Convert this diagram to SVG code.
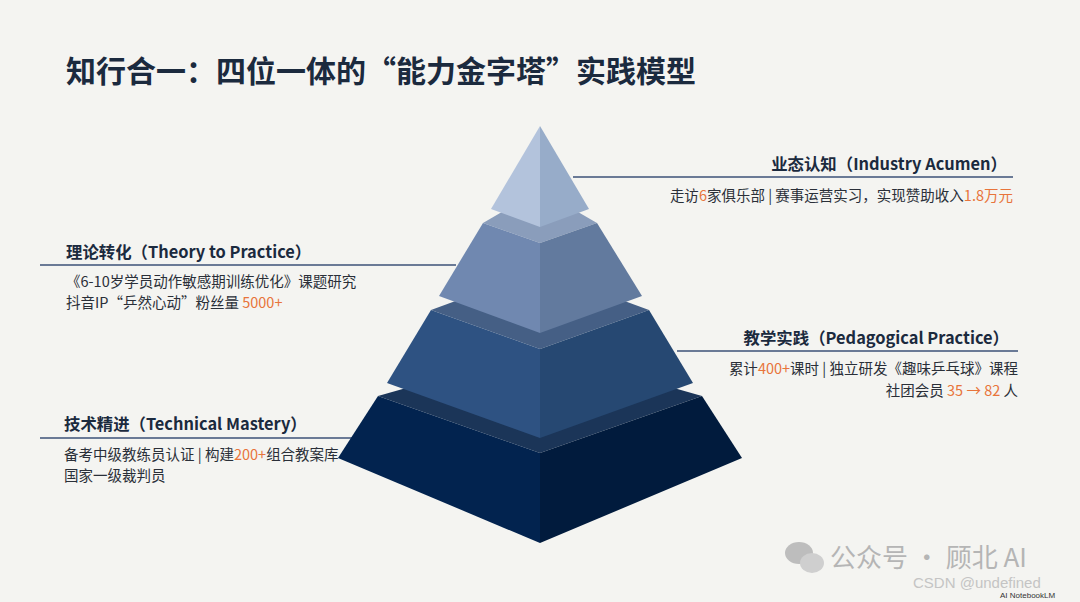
<svg xmlns="http://www.w3.org/2000/svg" width="1080" height="602" viewBox="0 0 1080 602">
<style>
.t{font-family:"Noto Sans CJK SC","Noto Sans",sans-serif;fill:#1b2a3e}
.h{font-size:16.4px;font-weight:700}
.b{font-size:14.5px;fill:#2a2f38}
.o{fill:#e8743b}
.ln{stroke:#3d5277;stroke-width:1.5;fill:none}
</style>
<rect width="1080" height="602" fill="#f4f4f1"/>
<text class="t" x="66" y="82" font-size="30" font-weight="700" fill="#1b2a3e">知行合一：四位一体的“能力金字塔”实践模型</text>
<g id="connectors">
<line class="ln" x1="573" y1="177" x2="1013" y2="177"/>
<line class="ln" x1="40" y1="265" x2="456" y2="265"/>
<line class="ln" x1="677" y1="351" x2="1018" y2="351"/>
<line class="ln" x1="40" y1="438" x2="392" y2="438"/>
</g>
<g id="tier4">
<polygon points="378,396 540,453 702,396 540,350" fill="#1b3558"/>
<polygon points="378,396 540,453 540,543 338,458" fill="#02234f"/>
<polygon points="702,396 540,453 540,543 742,458" fill="#011b3d"/>
</g>
<g id="tier3">
<polygon points="431,310 540,349 649,310 540,270" fill="#455f85"/>
<polygon points="431,310 540,349 540,438 387,383" fill="#2e5282"/>
<polygon points="649,310 540,349 540,438 693,383" fill="#264872"/>
</g>
<g id="tier2">
<polygon points="483,223 540,243 597,223 540,190" fill="#8a9dbb"/>
<polygon points="483,223 540,243 540,333 439,296" fill="#7088b0"/>
<polygon points="597,223 540,243 540,333 642,296" fill="#627a9e"/>
</g>
<g id="tier1">
<polygon points="540,126 540,227 491,209" fill="#b3c3dc"/>
<polygon points="540,126 540,227 589,209" fill="#97acc9"/>
</g>
<g id="label-industry" class="t" text-anchor="end">
<text class="t h" x="1007" y="170">业态认知（Industry Acumen）</text>
<text class="t b" x="1013" y="201">走访<tspan class="o">6</tspan>家俱乐部 | 赛事运营实习，实现赞助收入<tspan class="o">1.8万元</tspan></text>
</g>
<g id="label-theory" class="t">
<text class="t h" x="66" y="258">理论转化（Theory to Practice）</text>
<text class="t b" x="66" y="287">《6-10岁学员动作敏感期训练优化》课题研究</text>
<text class="t b" x="66" y="308">抖音IP“乒然心动”粉丝量 <tspan class="o">5000+</tspan></text>
</g>
<g id="label-pedagogy" class="t" text-anchor="end">
<text class="t h" x="1009" y="344">教学实践（Pedagogical Practice）</text>
<text class="t b" x="1018" y="374">累计<tspan class="o">400+</tspan>课时 | 独立研发《趣味乒乓球》课程</text>
<text class="t b" x="1018" y="396">社团会员 <tspan class="o">35 → 82</tspan> 人</text>
</g>
<g id="label-technical" class="t">
<text class="t h" x="64" y="430">技术精进（Technical Mastery）</text>
<text class="t b" x="64" y="460">备考中级教练员认证 | 构建<tspan class="o">200+</tspan>组合教案库</text>
<text class="t b" x="64" y="481">国家一级裁判员</text>
</g>
<g id="watermark" fill="#bdbdbd">
<ellipse cx="799" cy="553" rx="14" ry="11"/>
<ellipse cx="812" cy="563" rx="12" ry="10" fill="#cfcfcf"/>
<text x="830" y="567" font-family="Noto Sans CJK SC,sans-serif" font-size="26" fill="#b5b5b5">公众号 · 顾北 AI</text>
<text x="913" y="588" font-family="Liberation Sans,sans-serif" font-size="15" fill="#c4c4c4">CSDN @undefined</text>
<text x="1000" y="598" font-family="Liberation Sans,sans-serif" font-size="8" fill="#333">AI NotebookLM</text>
</g>
</svg>
